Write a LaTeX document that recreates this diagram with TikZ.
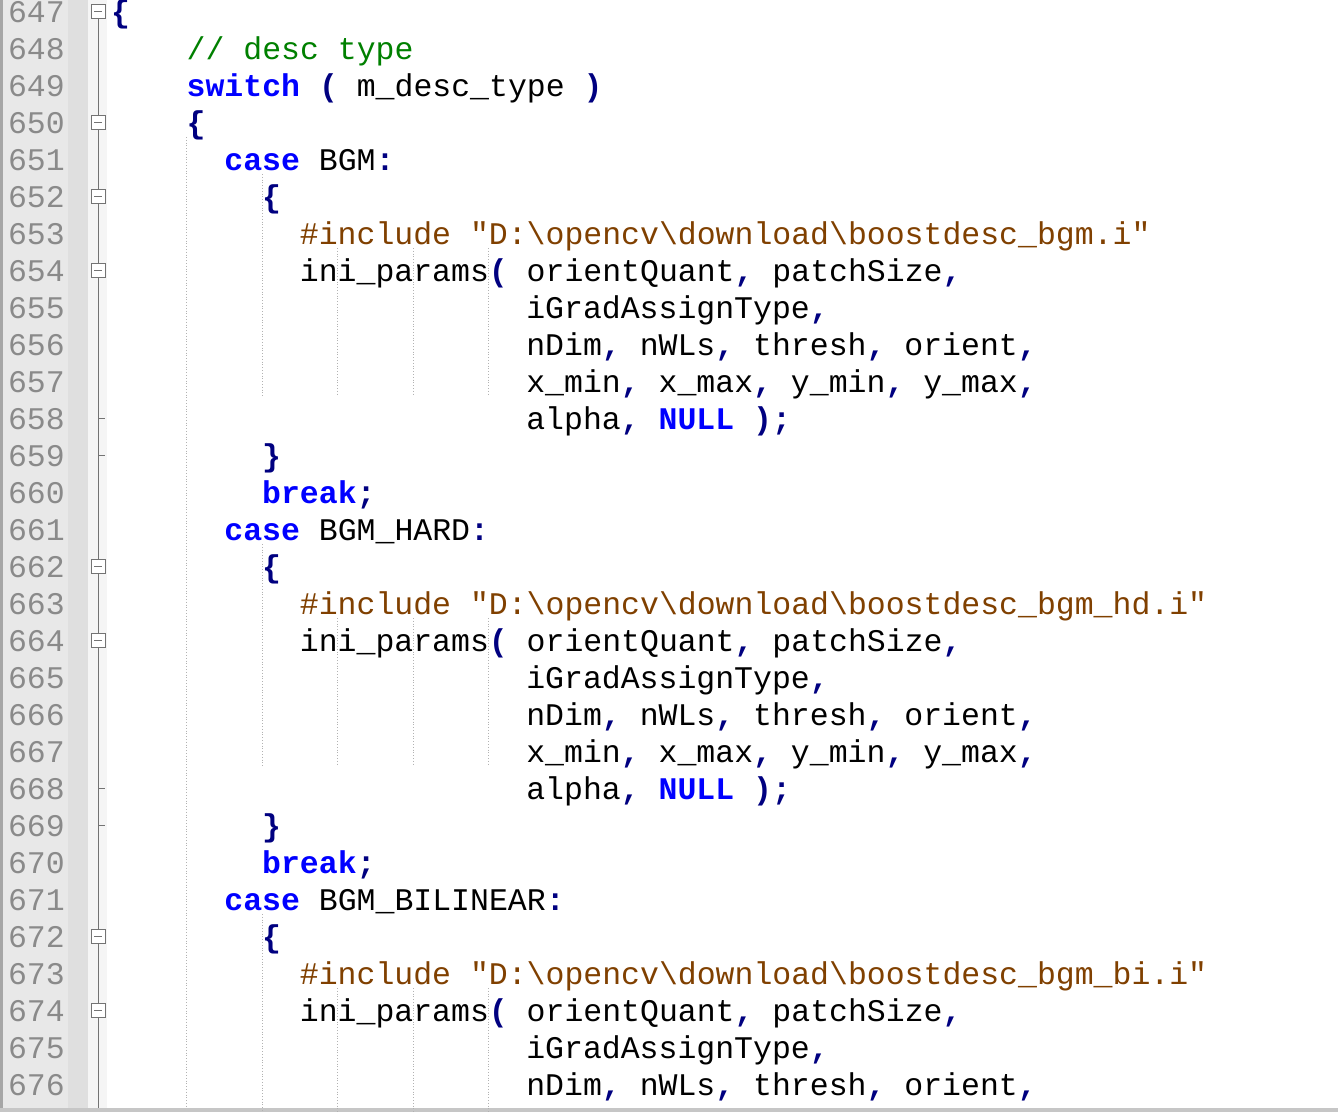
\documentclass[tikz,border=0pt]{standalone}
\usepackage{fontspec}
\newfontfamily\code{Liberation Mono}
\definecolor{kwc}{HTML}{0000FF}
\definecolor{brc}{HTML}{000080}
\definecolor{cmc}{HTML}{008000}
\definecolor{ppc}{HTML}{804000}
\definecolor{lnc}{HTML}{8A8A8A}
\newcommand\kw[1]{{\bfseries\color{kwc}#1}}
\newcommand\br[1]{{\bfseries\color{brc}#1}}
\newcommand\cm[1]{{\color{cmc}#1}}
\newcommand\pp[1]{{\color{ppc}#1}}
\newcommand\bs{\textbackslash}
\begin{document}
\begin{tikzpicture}[x=1pt,y=-1pt,
  codetxt/.style={anchor=base west,inner sep=0pt,font=\code\fontsize{31.5}{37}\selectfont},
  lnum/.style={anchor=base east,inner sep=0pt,text=lnc,font=\code\fontsize{31.5}{37}\selectfont},
  guide/.style={draw=gray!60,dotted,line width=0.8pt},
  fold/.style={draw=gray!90!black,line width=0.8pt}]
\useasboundingbox (0,0) rectangle (1338,1112);
\fill[white] (0,0) rectangle (1338,1112);
\fill[gray!18] (3,0) rectangle (68,1112);
\fill[gray!25] (68,0) rectangle (88,1112);
\fill[gray!8] (88,0) rectangle (107,1112);
\fill[gray!70] (0,0) rectangle (3,1112);
\fill[gray!45] (0,1108) rectangle (1338,1112);
\def\cx#1{111+18.87*#1}
% line numbers
\foreach \n [count=\i from 0] in {647,...,676}
  \node[lnum] (ln\n) at (65,22+37*\i) {\n};
% indent guides
\draw[guide] (\cx{4},137) -- (\cx{4},1108);
\foreach \s in {0,10,20}{
  \pgfmathsetmacro\ya{137+37*\s+37}
  \draw[guide] (\cx{8},\ya) -- (\cx{8},\ya+222);
  \foreach \c in {12,16,20}
    \draw[guide] (\cx{\c},\ya+74) -- (\cx{\c},\ya+222);
}
% fold margin
\draw[fold] (98,11) -- (98,1108);
\foreach \k in {0,3,5,7,15,17,25,27}{
  \filldraw[fold,fill=white] (91,4+37*\k) rectangle (105,18+37*\k);
  \draw[fold] (94,11+37*\k) -- (102,11+37*\k);
}
\foreach \k in {11,12,21,22}
  \draw[fold] (98,11+37*\k) -- (105,11+37*\k);
% code
\newcommand\cl[3]{\node[codetxt] (c#1) at (\cx{#2},22+37*#1) {#3};}
\cl{0}{0}{\br{\{}}
\cl{1}{4}{\cm{// desc type}}
\cl{2}{4}{\kw{switch} \br{(} m\_desc\_type \br{)}}
\cl{3}{4}{\br{\{}}
\cl{4}{6}{\kw{case} BGM\br{:}}
\cl{5}{8}{\br{\{}}
\cl{6}{10}{\pp{\#include "D:\bs opencv\bs download\bs boostdesc\_bgm.i"}}
\cl{7}{10}{ini\_params\br{(} orientQuant\br{,} patchSize\br{,}}
\cl{8}{22}{iGradAssignType\br{,}}
\cl{9}{22}{nDim\br{,} nWLs\br{,} thresh\br{,} orient\br{,}}
\cl{10}{22}{x\_min\br{,} x\_max\br{,} y\_min\br{,} y\_max\br{,}}
\cl{11}{22}{alpha\br{,} \kw{NULL} \br{);}}
\cl{12}{8}{\br{\}}}
\cl{13}{8}{\kw{break}\br{;}}
\cl{14}{6}{\kw{case} BGM\_HARD\br{:}}
\cl{15}{8}{\br{\{}}
\cl{16}{10}{\pp{\#include "D:\bs opencv\bs download\bs boostdesc\_bgm\_hd.i"}}
\cl{17}{10}{ini\_params\br{(} orientQuant\br{,} patchSize\br{,}}
\cl{18}{22}{iGradAssignType\br{,}}
\cl{19}{22}{nDim\br{,} nWLs\br{,} thresh\br{,} orient\br{,}}
\cl{20}{22}{x\_min\br{,} x\_max\br{,} y\_min\br{,} y\_max\br{,}}
\cl{21}{22}{alpha\br{,} \kw{NULL} \br{);}}
\cl{22}{8}{\br{\}}}
\cl{23}{8}{\kw{break}\br{;}}
\cl{24}{6}{\kw{case} BGM\_BILINEAR\br{:}}
\cl{25}{8}{\br{\{}}
\cl{26}{10}{\pp{\#include "D:\bs opencv\bs download\bs boostdesc\_bgm\_bi.i"}}
\cl{27}{10}{ini\_params\br{(} orientQuant\br{,} patchSize\br{,}}
\cl{28}{22}{iGradAssignType\br{,}}
\cl{29}{22}{nDim\br{,} nWLs\br{,} thresh\br{,} orient\br{,}}
\end{tikzpicture}
\end{document}
